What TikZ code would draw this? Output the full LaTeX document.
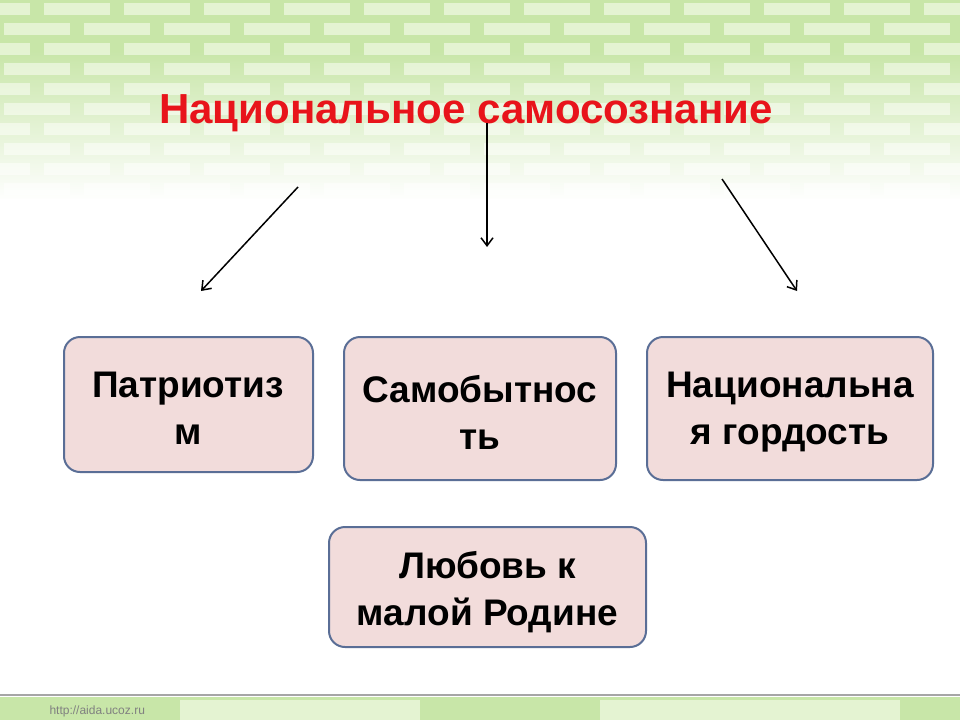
\documentclass[tikz,border=0pt]{standalone}
\usepackage{fontspec}
\setmainfont{Liberation Sans}
\usetikzlibrary{fadings,arrows.meta}
\definecolor{boxfill}{HTML}{F2DCDB}
\definecolor{boxline}{HTML}{5A6E96}
\definecolor{gA}{HTML}{C8E6A8}
\definecolor{gB}{HTML}{E4F3D2}
\definecolor{ttl}{HTML}{E8141B}
\tikzset{
  cbox/.style={draw=boxline,line width=2pt,fill=boxfill,rounded corners=16pt,inner sep=0pt},
  ctext/.style={font=\bfseries\fontsize{37}{47}\selectfont,align=center},
  arr/.style={-{Straight Barb[length=8pt,width=12pt]},line width=1.5pt,black}
}
\begin{document}
\begin{tikzpicture}[x=1pt,y=-1pt]
\useasboundingbox (0,0) rectangle (960,720);
\begin{scope}
\clip (0,0) rectangle (960,720);
\fill[white] (0,0) rectangle (960,720);
% woven background
\fill[gA] (0,0) rectangle (980,240);
\foreach \r in {0,...,11}{
  \foreach \c in {0,...,12}{
    \pgfmathsetmacro{\xo}{mod(\r,2)*40}
    \fill[gB] (\c*80+\xo-36,\r*20+3) rectangle (\c*80+\xo+30,\r*20+15);
  }
}
\fill[white,path fading=north] (-20,50) rectangle (990,200);
\fill[white] (-20,199) rectangle (990,241);
% bottom band
\fill[gA] (0,697) rectangle (960,720);
\fill[gB] (180,700) rectangle (420,720);
\fill[gB] (600,700) rectangle (900,720);
\draw[gray!70,line width=2pt] (0,695) -- (960,695);
\end{scope}
\node[anchor=west,text=gray,font=\fontsize{12}{14}\selectfont] (url) at (46,711) {http://aida.ucoz.ru};
% title
\node[text=ttl,font=\bfseries\fontsize{42}{48}\selectfont] (title) at (466,113) {Национальное самосознание};
% boxes
\node[cbox,minimum width=249pt,minimum height=135pt] (b1) at (188.5,404.5) {};
\node[ctext] at (188,408) {Патриотиз\\м};
\node[cbox,minimum width=272pt,minimum height=143pt] (b2) at (480,408.5) {};
\node[ctext] at (480,412) {Самобытнос\\ть};
\node[cbox,minimum width=286pt,minimum height=143pt] (b3) at (790,408.5) {};
\node[ctext] at (790,412) {Национальна\\я гордость};
\node[cbox,minimum width=317pt,minimum height=120pt] (b4) at (487.5,587) {};
\node[ctext] at (487.5,592) {Любовь к\\малой Родине};
% arrows
\coordinate (s1) at (298,187); \coordinate (e1) at (201,291);
\coordinate (s2) at (487,123); \coordinate (e2) at (487,247);
\coordinate (s3) at (722,179); \coordinate (e3) at (797,291);
\draw[arr] (s1) -- (e1);
\draw[arr] (s2) -- (e2);
\draw[arr] (s3) -- (e3);
\end{tikzpicture}
\end{document}
